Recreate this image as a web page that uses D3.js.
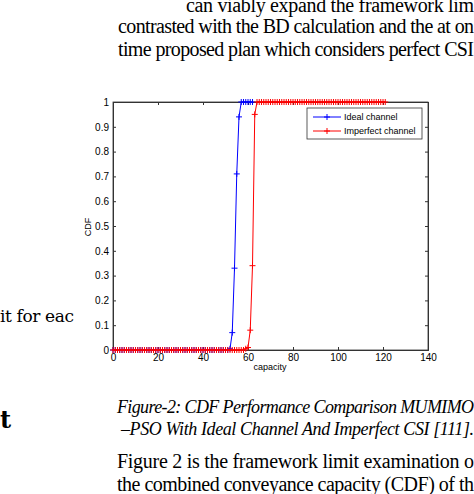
<!DOCTYPE html>
<html><head><meta charset="utf-8">
<script src="https://cdn.jsdelivr.net/npm/d3@7"></script>
<style>body{margin:0;background:#fff}svg{display:block}</style>
</head><body>
<script>
const xTicks=[0,20,40,60,80,100,120,140];
const yTicks=[0,0.1,0.2,0.3,0.4,0.5,0.6,0.7,0.8,0.9,1];
const idealX=[0,1,2,3,4,5,6,7,8,9,10,11,12,13,14,15,16,17,18,19,20,21,22,23,24,25,26,27,28,29,30,31,32,33,34,35,36,37,38,39,40,41,42,43,44,45,46,47,48,49,50,51,52,53,54,55,56,57,58,59,60,61,62];
const idealY=[0,0,0,0,0,0,0,0,0,0,0,0,0,0,0,0,0,0,0,0,0,0,0,0,0,0,0,0,0,0,0,0,0,0,0,0,0,0,0,0,0,0,0,0,0,0,0,0,0,0,0,0,0.005,0.07,0.33,0.71,0.94,1,1,1,1,1,1];
const imperfX=[0,1,2,3,4,5,6,7,8,9,10,11,12,13,14,15,16,17,18,19,20,21,22,23,24,25,26,27,28,29,30,31,32,33,34,35,36,37,38,39,40,41,42,43,44,45,46,47,48,49,50,51,52,53,54,55,56,57,58,59,60,61,62,63,64,65,66,67,68,69,70,71,72,73,74,75,76,77,78,79,80,81,82,83,84,85,86,87,88,89,90,91,92,93,94,95,96,97,98,99,100,101,102,103,104,105,106,107,108,109,110,111,112,113,114,115,116,117,118,119,120,121];
const imperfY=[0,0,0,0,0,0,0,0,0,0,0,0,0,0,0,0,0,0,0,0,0,0,0,0,0,0,0,0,0,0,0,0,0,0,0,0,0,0,0,0,0,0,0,0,0,0,0,0,0,0,0,0,0,0,0,0,0,0,0,0.005,0.01,0.08,0.34,0.95,1,1,1,1,1,1,1,1,1,1,1,1,1,1,1,1,1,1,1,1,1,1,1,1,1,1,1,1,1,1,1,1,1,1,1,1,1,1,1,1,1,1,1,1,1,1,1,1,1,1,1,1,1,1,1,1,1,1];
const legendLabels=["Ideal channel","Imperfect channel"];

const W=474,H=494;
const svg=d3.select("body").append("svg").attr("width",W).attr("height",H);
const serif="'Liberation Serif','DejaVu Serif',serif";
function txt(x,y,s,o={}){const t=svg.append("text").attr("x",x).attr("y",y).text(s)
 .attr("font-family",serif).attr("font-size",o.fs||20).attr("fill","#000");
 if(o.it)t.attr("font-style","italic"); if(o.b)t.attr("font-weight","bold");
 if(o.len)t.attr("textLength",o.len).attr("lengthAdjust","spacing"); return t;}
txt(186,12,"can  viably  expand  the  framework  lim",{len:288});
txt(118,33,"contrasted with the BD calculation and the at on",{len:356});
txt(118,56,"time proposed plan which considers perfect CSI",{len:356});
txt(0,322,"it for eac",{fs:19,len:74}).attr("font-family","'DejaVu Serif',serif").attr("font-size",17);
txt(0,428,"t",{fs:24,b:true}).attr("font-family","'DejaVu Serif',serif");
txt(117,413,"Figure-2: CDF Performance Comparison MUMIMO",{it:true,fs:18,len:357});
txt(121,435,"–PSO With Ideal Channel And Imperfect CSI [111].",{it:true,fs:18,len:353});
txt(117,468,"Figure 2 is the framework limit examination o",{len:357});
txt(117,491,"the combined conveyance capacity (CDF) of th",{len:357});

const L=113,R=428,T=102,B=350;
const x=d3.scaleLinear().domain([0,140]).range([L,R]);
const y=d3.scaleLinear().domain([0,1]).range([B,T]);
svg.append("rect").attr("x",L).attr("y",T).attr("width",R-L).attr("height",B-T).attr("fill","#fff").attr("stroke","#333").attr("stroke-width",0.8);
const sans="'Liberation Sans',Arial,sans-serif";
svg.append("g").attr("transform",`translate(0,${B})`).call(d3.axisBottom(x).tickValues(xTicks).tickSize(-3).tickPadding(4));
svg.append("g").attr("transform",`translate(${L},0)`).call(d3.axisLeft(y).tickValues(yTicks).tickFormat(d=>d3.format("")(d)).tickSize(-3).tickPadding(4));
svg.append("g").attr("transform",`translate(0,${T})`).call(d3.axisTop(x).tickValues(xTicks).tickFormat("").tickSize(-3));
svg.append("g").attr("transform",`translate(${R},0)`).call(d3.axisRight(y).tickValues(yTicks).tickFormat("").tickSize(-3));
svg.selectAll(".domain").attr("stroke","#333");
svg.selectAll(".tick line").attr("stroke","#333");
svg.selectAll(".tick text").attr("font-family",sans).attr("font-size",10).attr("fill","#000");
svg.append("text").attr("x",270).attr("y",370).attr("text-anchor","middle").attr("font-family",sans).attr("font-size",9).text("capacity");
svg.append("text").attr("transform","translate(91,227) rotate(-90)").attr("text-anchor","middle").attr("font-family",sans).attr("font-size",9).text("CDF");

function series(X,Y,c){
 const pts=X.map((v,i)=>[x(v),y(Y[i])]);
 svg.append("path").attr("d",d3.line()(pts)).attr("fill","none").attr("stroke",c).attr("stroke-width",1);
 const g=svg.append("g").attr("stroke",c).attr("stroke-width",1);
 pts.forEach(p=>{g.append("line").attr("x1",p[0]-3).attr("x2",p[0]+3).attr("y1",p[1]).attr("y2",p[1]);
  g.append("line").attr("x1",p[0]).attr("x2",p[0]).attr("y1",p[1]-3).attr("y2",p[1]+3);});
}
series(idealX,idealY,"#0000ff");
series(imperfX,imperfY,"#ff0000");

const lg=svg.append("g");
lg.append("rect").attr("x",307).attr("y",108).attr("width",115).attr("height",31).attr("fill","#fff").attr("stroke","#333").attr("stroke-width",0.8);
legendLabels.forEach((s,i)=>{const c=i?"#ff0000":"#0000ff";const yy=117+i*14;
 lg.append("line").attr("x1",313).attr("x2",341).attr("y1",yy).attr("y2",yy).attr("stroke",c);
 lg.append("line").attr("x1",324).attr("x2",330).attr("y1",yy).attr("y2",yy).attr("stroke",c);
 lg.append("line").attr("x1",327).attr("x2",327).attr("y1",yy-3).attr("y2",yy+3).attr("stroke",c);
 lg.append("text").attr("x",344).attr("y",yy+3).attr("font-family",sans).attr("font-size",9).text(s);});
</script>
</body></html>
